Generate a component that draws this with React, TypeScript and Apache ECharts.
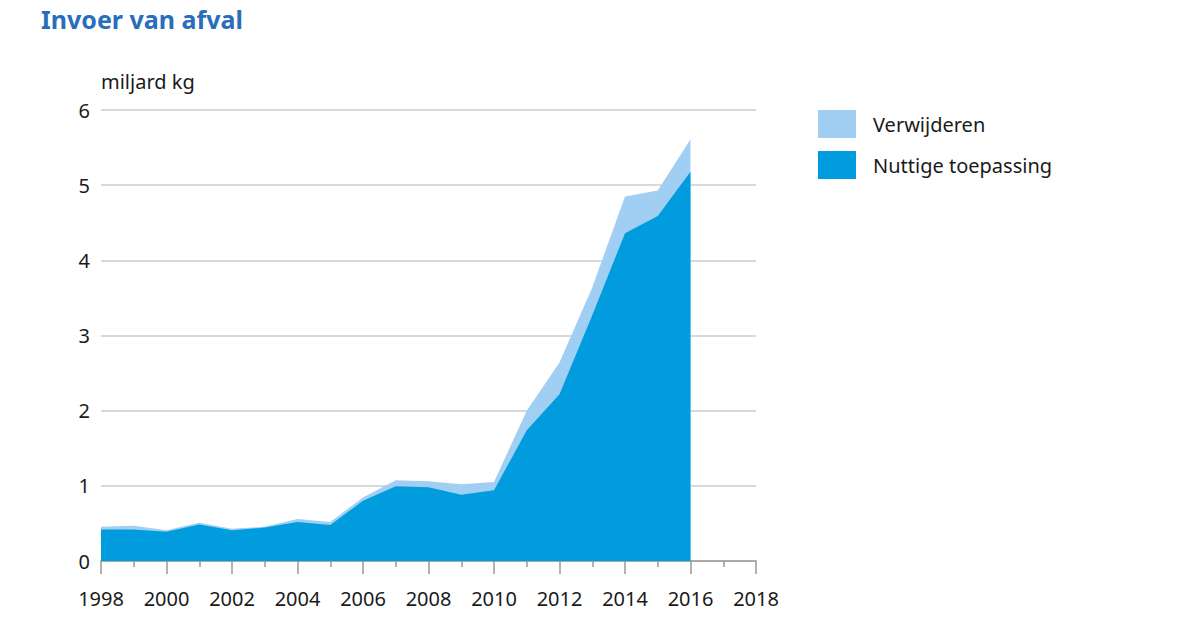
import React, { useEffect, useRef } from 'react';
import * as echarts from 'echarts';

const years = [1998, 1999, 2000, 2001, 2002, 2003, 2004, 2005, 2006, 2007, 2008, 2009, 2010, 2011, 2012, 2013, 2014, 2015, 2016];
// miljard kg
const nuttigeToepassing = [0.42, 0.42, 0.39, 0.485, 0.41, 0.445, 0.52, 0.48, 0.8, 0.995, 0.98, 0.88, 0.94, 1.74, 2.22, 3.27, 4.36, 4.59, 5.18];
const verwijderen = [0.035, 0.05, 0.02, 0.025, 0.02, 0.01, 0.04, 0.04, 0.045, 0.08, 0.08, 0.14, 0.11, 0.26, 0.42, 0.37, 0.49, 0.34, 0.43];
const yTicks = [0, 1, 2, 3, 4, 5, 6];

const FONT = 'Noto Sans';

const App = () => {
    const chartRef = useRef<HTMLDivElement>(null);

    useEffect(() => {
        if (!chartRef.current) return;
        const myChart = echarts.init(chartRef.current, null, { renderer: 'svg' });

        // stapelen: bovenste vlak = nuttige toepassing + verwijderen
        const totaal = years.map((y, i) => [y, nuttigeToepassing[i] + verwijderen[i]]);

        const option = {
            animation: false,
            backgroundColor: '#ffffff',
            title: {
                text: 'Invoer van afval',
                left: 36,
                top: 1,
                textStyle: { color: '#2a6ebb', fontSize: 25, fontWeight: 'bold', fontFamily: FONT }
            },
            legend: {
                orient: 'vertical',
                left: 813,
                top: 105,
                itemWidth: 38,
                itemHeight: 28,
                itemGap: 13,
                icon: 'rect',
                data: ['Verwijderen', 'Nuttige toepassing'],
                textStyle: { color: '#1a1a1a', fontSize: 20, fontFamily: FONT, padding: [0, 0, 0, 12] }
            },
            grid: { left: 101, right: 444, top: 110, bottom: 69 },
            xAxis: {
                type: 'value',
                min: 1998,
                max: 2018,
                interval: 2,
                axisLine: { show: true, lineStyle: { color: '#999999', width: 1.5 } },
                axisTick: { show: true, length: 13, lineStyle: { color: '#999999', width: 1.5 } },
                minorTick: { show: true, splitNumber: 2, length: 6, lineStyle: { color: '#999999', width: 1.5 } },
                splitLine: { show: false },
                axisLabel: {
                    color: '#1a1a1a', fontSize: 20, fontFamily: FONT, margin: 27,
                    formatter: (v: number) => String(v)
                },
            },
            yAxis: {
                type: 'value',
                min: yTicks[0],
                max: yTicks[yTicks.length - 1],
                interval: 1,
                name: 'miljard kg',
                nameLocation: 'end',
                nameGap: 19,
                nameTextStyle: { color: '#1a1a1a', fontSize: 20, fontFamily: FONT, align: 'left' },
                axisLine: { show: false },
                axisTick: { show: false },
                axisLabel: { color: '#1a1a1a', fontSize: 20, fontFamily: FONT, margin: 11 },
                splitLine: { show: true, lineStyle: { color: '#cccccc', width: 1.5 } }
            },
            series: [
                {
                    name: 'Verwijderen',
                    type: 'line',
                    symbol: 'none',
                    lineStyle: { width: 0 },
                    itemStyle: { color: '#a0cff3' },
                    areaStyle: { color: '#a0cff3', opacity: 1 },
                    data: totaal,
                    z: 2
                },
                {
                    name: 'Nuttige toepassing',
                    type: 'line',
                    symbol: 'none',
                    lineStyle: { width: 0 },
                    itemStyle: { color: '#009cde' },
                    areaStyle: { color: '#009cde', opacity: 1 },
                    data: years.map((y, i) => [y, nuttigeToepassing[i]]),
                    z: 3
                }
            ]
        };

        myChart.setOption(option);
        return () => {
            myChart.dispose();
        };
    }, []);

    return <div ref={chartRef} style={{ width: 1200, height: 630, margin: -8 }}></div>;
};

export default App;
